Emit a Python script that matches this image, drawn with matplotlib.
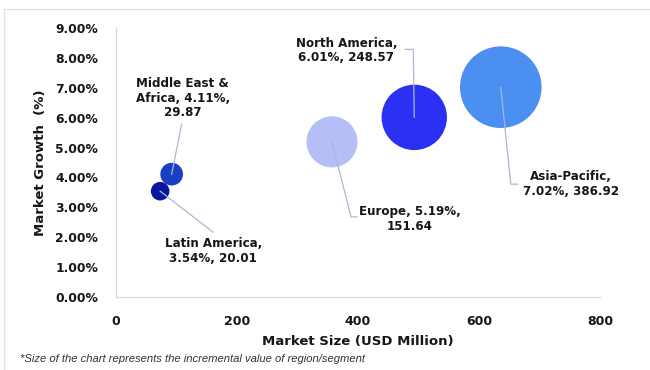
import matplotlib
matplotlib.use("Agg")
import matplotlib.pyplot as plt
from matplotlib.lines import Line2D
import numpy as np

# ---- data ----
regions = ["Middle East &\nAfrica", "Latin America", "Europe", "North America", "Asia-Pacific"]
market_size_x = [92, 73, 357, 493, 636]          # x position (USD Million)
growth_pct = [4.11, 3.54, 5.19, 6.01, 7.02]      # market growth (%)
incr_value = [29.87, 20.01, 151.64, 248.57, 386.92]  # bubble size
label_texts = [
    "Middle East &\nAfrica, 4.11%,\n29.87",
    "Latin America,\n3.54%, 20.01",
    "Europe, 5.19%,\n151.64",
    "North America,\n6.01%, 248.57",
    "Asia-Pacific,\n7.02%, 386.92",
]
x_ticks = [0, 200, 400, 600, 800]
y_ticks = [0, 1, 2, 3, 4, 5, 6, 7, 8, 9]

# ---- style / layout ----
colors = ["#1b3ec6", "#0b169e", "#b6bef8", "#2a31f2", "#4b8ff0"]
# leader polylines: pixel offsets from bubble center (x right, y down)
leaders = [
    [(0, 0), (10, -50)],
    [(0, 0), (53, 41)],
    [(0, 0), (19, 75), (25, 75)],
    [(0, 0), (-1, -68), (-9, -68)],
    [(0, 0), (10, 97), (17, 97)],
]
text_offsets = [(11, -76), (53, 60), (78, 77), (-68, -67), (70, 97)]

W, H, DPI = 650, 370, 100
fig = plt.figure(figsize=(W / DPI, H / DPI), dpi=DPI)
fig.patch.set_facecolor("white")

ax_l, ax_r, ax_t, ax_b = 116, 600, 28, 297
ax = fig.add_axes([ax_l / W, (H - ax_b) / H, (ax_r - ax_l) / W, (ax_b - ax_t) / H])
ax.set_xlim(0, 800)
ax.set_ylim(0, 9)
ax.patch.set_alpha(0)

# bubble sizes: radius_px = sqrt(4.3*v); scatter s = (diameter in pt)^2
sizes = [(2 * 0.72) ** 2 * 4.3 * v for v in incr_value]
ax.scatter(market_size_x, growth_pct, s=sizes, c=colors, edgecolors="none", zorder=3)

font = "DejaVu Sans"
ax.set_xticks(x_ticks)
ax.set_yticks(y_ticks)
ax.set_xticklabels([str(t) for t in x_ticks], fontsize=9, fontweight="bold",
                   color="#161616", family=font)
ax.set_yticklabels([f"{t:.2f}%" for t in y_ticks], fontsize=8.9, fontweight="bold",
                   color="#161616", family=font)
ax.tick_params(axis="both", length=0)
ax.tick_params(axis="y", pad=13)
ax.tick_params(axis="x", pad=13)

for s in ["top", "right"]:
    ax.spines[s].set_visible(False)
ax.spines["left"].set_color("#cfd8e8")
ax.spines["bottom"].set_color("#dcdcdc")
ax.spines["left"].set_linewidth(0.9)
ax.spines["bottom"].set_linewidth(0.9)

ax.set_xlabel("Market Size (USD Million)", fontsize=9.5, fontweight="bold",
              color="#161616", family=font, labelpad=5)
ax.set_ylabel("Market Growth  (%)", fontsize=9.5, fontweight="bold",
              color="#161616", family=font, labelpad=6)

# leaders and labels
for i in range(len(regions)):
    cx, cy = ax.transData.transform((market_size_x[i], growth_pct[i]))
    pts = np.array([(cx + dx, cy - dy) for dx, dy in leaders[i]])
    fig.add_artist(Line2D(pts[:, 0], pts[:, 1], transform=None, color="#a9b8d6",
                          lw=0.9, zorder=4))
    tx, ty = text_offsets[i]
    fig.text((cx + tx) / W, (cy - ty) / H, label_texts[i], transform=fig.transFigure,
             ha="center", va="center", fontsize=8.6, fontweight="bold",
             color="#161616", family=font, linespacing=1.15, zorder=5)

# footnote
fig.text(20 / W, 1 - 359 / H,
         "*Size of the chart represents the incremental value of region/segment",
         ha="left", va="center", fontsize=8.1, style="italic", color="#333333",
         family="Liberation Sans")

# faint frame lines
fig.add_artist(Line2D([4 / W, 1], [1 - 9 / H, 1 - 9 / H], transform=fig.transFigure,
                      color="#e2e2e2", lw=1))
fig.add_artist(Line2D([4 / W, 4 / W], [0, 1 - 9 / H], transform=fig.transFigure,
                      color="#e2e2e2", lw=1))

fig.savefig("out.png", dpi=DPI, facecolor="white")
